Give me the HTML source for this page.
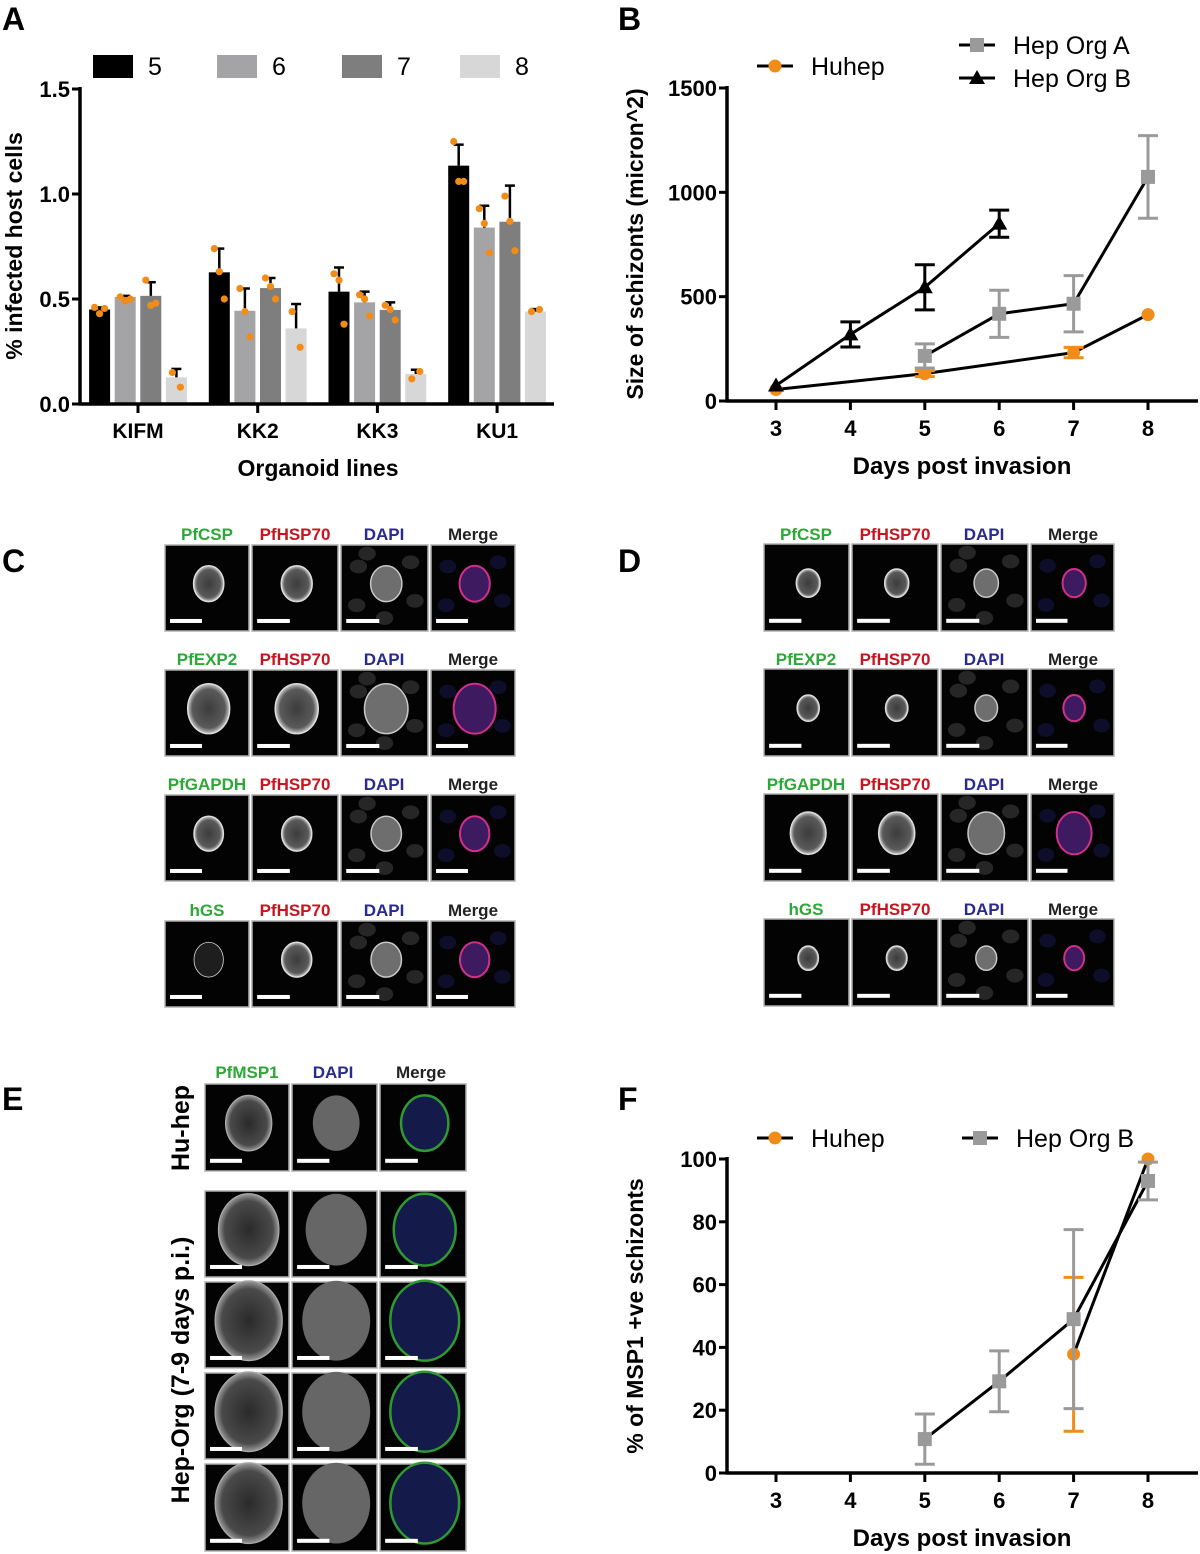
<!DOCTYPE html>
<html><head><meta charset="utf-8"><style>
html,body{margin:0;padding:0;background:#fff;}
svg{display:block;font-family:"Liberation Sans",Arial,sans-serif;}
</style></head><body>
<svg id="fig" width="1200" height="1554" viewBox="0 0 1200 1554" xmlns="http://www.w3.org/2000/svg">
<defs>
<radialGradient id="cellg" cx="50%" cy="50%" r="50%"><stop offset="0%" stop-color="#3c3c3c"/><stop offset="78%" stop-color="#5a5a5a"/><stop offset="100%" stop-color="#c8c8c8"/></radialGradient>
<radialGradient id="cellgE" cx="50%" cy="50%" r="50%"><stop offset="0%" stop-color="#2a2a2a"/><stop offset="80%" stop-color="#4a4a4a"/><stop offset="100%" stop-color="#9a9a9a"/></radialGradient>
</defs>
<g id="labels" font-weight="bold" font-size="32">
<text x="2" y="30">A</text>
<text x="618" y="30">B</text>
<text x="2" y="572">C</text>
<text x="618" y="572">D</text>
<text x="2" y="1110">E</text>
<text x="618" y="1110">F</text>
</g>
<g id="chartA"></g>
<g id="chartB"></g>
<g id="chartF"></g>
<g id="micro"></g>
</svg>
<script>
// ---------- Panel A data ----------
const aCategories = ["KIFM","KK2","KK3","KU1"];
const aSeries = ["5","6","7","8"];
const aMeans5 = [0.45,0.627,0.535,1.135];
const aMeans6 = [0.51,0.444,0.484,0.84];
const aMeans7 = [0.515,0.552,0.448,0.868];
const aMeans8 = [0.127,0.36,0.143,0.44];
const aErr5 = [0.46,0.74,0.65,1.235];
const aErr6 = [0.515,0.55,0.535,0.944];
const aErr7 = [0.58,0.6,0.484,1.04];
const aErr8 = [0.167,0.476,0.163,0.452];
const aDots5 = [[0.46,0.43,0.455],[0.74,0.63,0.5],[0.62,0.59,0.38],[1.25,1.06,1.06]];
const aDots6 = [[0.51,0.49,0.5],[0.55,0.44,0.32],[0.52,0.5,0.42],[0.93,0.86,0.72]];
const aDots7 = [[0.59,0.47,0.48],[0.6,0.56,0.5],[0.47,0.45,0.4],[0.99,0.87,0.73]];
const aDots8 = [[0.15,0.08],[0.44,0.27],[0.12,0.155],[0.44,0.45]];
const aTicks = [0,0.5,1.0,1.5];
const aTickLabels = ["0.0","0.5","1.0","1.5"];

// ---------- Panel B data ----------
const bDays = [3,4,5,6,7,8];
const bHuhepX = [3,5,7,8];
const bHuhepY = [55,131,232,414];
const bHuhepErr = [0,14,25,0];
const bOrgAX = [5,6,7,8];
const bOrgAY = [216,418,466,1074];
const bOrgAErr = [58,113,135,198];
const bOrgBX = [3,4,5,6];
const bOrgBY = [74,319,545,850];
const bOrgBErr = [0,60,108,65];
const bTicks = [0,500,1000,1500];

// ---------- Panel F data ----------
const fHuhepX = [7,8];
const fHuhepY = [37.8,100];
const fHuhepErr = [24.5,0];
const fOrgBX = [5,6,7,8];
const fOrgBY = [10.8,29.2,49,93];
const fOrgBErr = [8,9.7,28.5,6];
const fTicks = [0,20,40,60,80,100];

const NS = "http://www.w3.org/2000/svg";
function mk(parent, tag, attrs, text){
  const e = document.createElementNS(NS, tag);
  for (const k in attrs) e.setAttribute(k, attrs[k]);
  if (text !== undefined) e.textContent = text;
  parent.appendChild(e);
  return e;
}
const ORANGE = "#f28c18";

// ===== Chart A =====
(function(){
  const g = document.getElementById("chartA");
  const x0 = 80, x1 = 554, yBase = 404;
  const yA = v => yBase - v * 210;
  const gx = i => 138 + i * 119.7;
  const barOff = j => (j - 1.5) * 25.6;
  const colors = ["#000000","#a4a4a7","#7e7e7e","#d7d7d7"];
  const means = [aMeans5,aMeans6,aMeans7,aMeans8];
  const errs = [aErr5,aErr6,aErr7,aErr8];
  const dots = [aDots5,aDots6,aDots7,aDots8];
  aSeries.forEach((s,j)=>{
    const lx = [93,217,342,460][j];
    const r = mk(g,"rect",{x:lx,y:55,width:40,height:23,fill:colors[j]});
    
    
    const t = mk(g,"text",{x:lx+55,y:75,"font-size":25},s);
    
    
  });
  aCategories.forEach((c,i)=>{
    means.forEach((m,j)=>{
      const cx = gx(i)+barOff(j);
      const top = yA(m[i]);
      const b = mk(g,"rect",{x:cx-10.5,y:top,width:21,height:yBase-top,fill:colors[j]});
      
      
      const ey = yA(errs[j][i]);
      mk(g,"line",{x1:cx,y1:top,x2:cx,y2:ey,stroke:"#000","stroke-width":2.5});
      mk(g,"line",{x1:cx-5,y1:ey,x2:cx+5,y2:ey,stroke:"#000","stroke-width":2.5});
      const d = dots[j][i];
      d.forEach((v,k)=>{
        const dx = d.length===3 ? (k-1)*5 : (k-0.5)*8;
        const p = mk(g,"circle",{cx:cx+dx,cy:yA(v),r:3.6,fill:ORANGE});
        
        
      });
    });
    mk(g,"line",{x1:gx(i),y1:yBase,x2:gx(i),y2:yBase+9,stroke:"#000","stroke-width":3});
    const t = mk(g,"text",{x:gx(i),y:438,"font-size":21,"font-weight":"bold","text-anchor":"middle"},c);
    
    
  });
  mk(g,"line",{x1:x0,y1:yA(1.5)-2,x2:x0,y2:yBase+1.5,stroke:"#000","stroke-width":3.5});
  mk(g,"line",{x1:x0-1.5,y1:yBase,x2:x1,y2:yBase,stroke:"#000","stroke-width":3.5});
  aTicks.forEach((v,k)=>{
    mk(g,"line",{x1:x0-8,y1:yA(v),x2:x0,y2:yA(v),stroke:"#000","stroke-width":3});
    const t = mk(g,"text",{x:x0-10,y:yA(v)+8,"font-size":22,"font-weight":"bold","text-anchor":"end"},aTickLabels[k]);
    
    
  });
  const yt = mk(g,"text",{x:0,y:0,"font-size":23,"font-weight":"bold","text-anchor":"middle",transform:"translate(22,246) rotate(-90)"},"% infected host cells");
  
  
  const xt = mk(g,"text",{x:318,y:476,"font-size":23,"font-weight":"bold","text-anchor":"middle"},"Organoid lines");
  
  
})();

function lineChart(gid, yZero, yTop, maxV, ticks, yTitle, titleY){
  const g = document.getElementById(gid);
  const x0 = 727, x1 = 1198;
  const xS = d => 776 + (d-3)*74.4;
  const yS = v => yZero - v/maxV*(yZero-yTop);
  mk(g,"line",{x1:x0,y1:yTop-2,x2:x0,y2:yZero+1.5,stroke:"#000","stroke-width":3.5});
  mk(g,"line",{x1:x0-1.5,y1:yZero,x2:x1,y2:yZero,stroke:"#000","stroke-width":3.5});
  ticks.forEach(v=>{
    mk(g,"line",{x1:x0-8,y1:yS(v),x2:x0,y2:yS(v),stroke:"#000","stroke-width":3});
    const t = mk(g,"text",{x:x0-10,y:yS(v)+8,"font-size":22,"font-weight":"bold","text-anchor":"end"},String(v));
    
    
  });
  bDays.forEach(d=>{
    mk(g,"line",{x1:xS(d),y1:yZero,x2:xS(d),y2:yZero+9,stroke:"#000","stroke-width":3});
    const t = mk(g,"text",{x:xS(d),y:yZero+35,"font-size":22,"font-weight":"bold","text-anchor":"middle"},String(d));
    
    
  });
  const yt = mk(g,"text",{x:0,y:0,"font-size":23,"font-weight":"bold","text-anchor":"middle",transform:"translate(643,"+titleY+") rotate(-90)"},yTitle);
  
  
  const xt = mk(g,"text",{x:962,y:yZero+73,"font-size":24,"font-weight":"bold","text-anchor":"middle"},"Days post invasion");
  
  
  return {g,xS,yS};
}
function series(c, xs, ys, errs, color, marker, name){
  const {g,xS,yS} = c;
  const pts = xs.map((d,i)=>xS(d)+","+yS(ys[i])).join(" ");
  const pl = mk(g,"polyline",{points:pts,fill:"none",stroke:"#000","stroke-width":3});
  
  
  xs.forEach((d,i)=>{
    const x = xS(d), y = yS(ys[i]);
    if (errs[i] > 0){
      mk(g,"line",{x1:x,y1:yS(ys[i]+errs[i]),x2:x,y2:yS(ys[i]-errs[i]),stroke:color,"stroke-width":3});
      mk(g,"line",{x1:x-10,y1:yS(ys[i]+errs[i]),x2:x+10,y2:yS(ys[i]+errs[i]),stroke:color,"stroke-width":3});
      mk(g,"line",{x1:x-10,y1:yS(ys[i]-errs[i]),x2:x+10,y2:yS(ys[i]-errs[i]),stroke:color,"stroke-width":3});
    }
    let m;
    if (marker==="circle") m = mk(g,"circle",{cx:x,cy:y,r:6.5,fill:color});
    else if (marker==="square") m = mk(g,"rect",{x:x-7,y:y-7,width:14,height:14,fill:color});
    else m = mk(g,"polygon",{points:(x)+","+(y-8)+" "+(x-8)+","+(y+6)+" "+(x+8)+","+(y+6),fill:color});
    
    
  });
}
function legendEntry(g, x, y, marker, color, label){
  mk(g,"line",{x1:x-18,y1:y,x2:x+18,y2:y,stroke:"#000","stroke-width":3});
  if (marker==="circle") mk(g,"circle",{cx:x,cy:y,r:6.5,fill:color});
  else if (marker==="square") mk(g,"rect",{x:x-7,y:y-7,width:14,height:14,fill:color});
  else mk(g,"polygon",{points:x+","+(y-8)+" "+(x-8)+","+(y+6)+" "+(x+8)+","+(y+6),fill:color});
  const t = mk(g,"text",{x:x+36,y:y+9,"font-size":25},label);
  
  
}

(function(){
  const c = lineChart("chartB", 401, 88, 1500, bTicks, "Size of schizonts (micron^2)", 244);
  series(c, bHuhepX, bHuhepY, bHuhepErr, ORANGE, "circle", "huhep");
  series(c, bOrgAX, bOrgAY, bOrgAErr, "#9a9a9a", "square", "hep-org-a");
  series(c, bOrgBX, bOrgBY, bOrgBErr, "#000", "triangle", "hep-org-b");
  legendEntry(c.g, 775, 66, "circle", ORANGE, "Huhep");
  legendEntry(c.g, 977, 45, "square", "#9a9a9a", "Hep Org A");
  legendEntry(c.g, 977, 78, "triangle", "#000", "Hep Org B");
})();

(function(){
  const c = lineChart("chartF", 1473, 1159, 100, fTicks, "% of MSP1 +ve schizonts", 1316);
  series(c, fHuhepX, fHuhepY, fHuhepErr, ORANGE, "circle", "huhep");
  series(c, fOrgBX, fOrgBY, fOrgBErr, "#9a9a9a", "square", "hep-org-b");
  legendEntry(c.g, 775, 1138, "circle", ORANGE, "Huhep");
  legendEntry(c.g, 980, 1138, "square", "#9a9a9a", "Hep Org B");
})();

(function(){
  const g = document.getElementById("micro");
  const GREEN="#2da836", RED="#c8141e", BLUE="#2a2a8c", BLK="#222";
  function tile(x,y,w,h,kind,size,name){
    const tg = mk(g,"g",{});
    
    
    mk(tg,"rect",{x:x,y:y,width:w,height:h,fill:"#030303",stroke:"#b0b0b0","stroke-width":1.5});
    const cx=x+w*0.52, cy=y+h*0.45, rx=w*size*0.5, ry=h*size*0.58;
    if (kind==="dapi"){
      [[0.2,0.25],[0.8,0.2],[0.18,0.7],[0.85,0.65],[0.5,0.85],[0.3,0.1]].forEach(p=>{
        mk(tg,"ellipse",{cx:x+w*p[0],cy:y+h*p[1],rx:w*0.1,ry:h*0.08,fill:"#262626"});
      });
      mk(tg,"ellipse",{cx:cx,cy:cy,rx:rx,ry:ry,fill:"#6e6e6e",stroke:"#c8c8c8","stroke-width":1.5});
    } else if (kind==="merge"){
      [[0.2,0.25],[0.8,0.2],[0.18,0.7],[0.85,0.65]].forEach(p=>{
        mk(tg,"ellipse",{cx:x+w*p[0],cy:y+h*p[1],rx:w*0.1,ry:h*0.08,fill:"#0e0e2a"});
      });
      mk(tg,"ellipse",{cx:cx,cy:cy,rx:rx,ry:ry,fill:"#3e1a60",stroke:"#d0308a","stroke-width":2});
    } else if (kind==="mergeG"){
      mk(tg,"ellipse",{cx:cx,cy:cy,rx:rx,ry:ry,fill:"#141a4a",stroke:"#2f9a30","stroke-width":2.5});
    } else if (kind==="dapiE"){
      mk(tg,"ellipse",{cx:cx,cy:cy,rx:rx,ry:ry,fill:"#666"});
    } else if (kind==="cellE"){
      mk(tg,"ellipse",{cx:cx,cy:cy,rx:rx,ry:ry,fill:"url(#cellgE)",stroke:"#aaa","stroke-width":1.2});
    } else {
      mk(tg,"ellipse",{cx:cx,cy:cy,rx:rx,ry:ry,fill:kind==="faint"?"#1e1e1e":"url(#cellg)",stroke:"#dcdcdc","stroke-width":kind==="faint"?0.8:1.5});
    }
    mk(tg,"rect",{x:x+w*0.06,y:y+h*0.86,width:w*0.38,height:4,fill:"#fff"});
  }
  function header(x,y,txt,col){
    const t = mk(g,"text",{x:x,y:y,"font-size":17,"font-weight":"bold","text-anchor":"middle",fill:col},txt);
    
    
  }
  const cCols=[165,252,341,431], cW=[84,86,87,84];
  const cRows=[545,670,795,921];
  const gLab=["PfCSP","PfEXP2","PfGAPDH","hGS"];
  const cSizes=[0.36,0.5,0.35,0.35];
  cRows.forEach((ry,r)=>{
    const hy = ry-5;
    header(cCols[0]+42,hy,gLab[r],GREEN);
    header(cCols[1]+43,hy,"PfHSP70",RED);
    header(cCols[2]+43,hy,"DAPI",BLUE);
    header(cCols[3]+42,hy,"Merge",BLK);
    const k=["cell","cell","dapi","merge"];
    if (r===3) k[0]="faint";
    k.forEach((kd,c)=>tile(cCols[c],ry,cW[c],86,kd,cSizes[r],"image-c-r"+(r+1)+"-c"+(c+1)));
  });
  const dCols=[764,852,941,1031], dW=[85,86,87,83];
  const dRows=[544,669,794,919];
  const dSizes=[0.28,0.26,0.42,0.24];
  dRows.forEach((ry,r)=>{
    const hy=ry-4;
    header(dCols[0]+42,hy,gLab[r],GREEN);
    header(dCols[1]+43,hy,"PfHSP70",RED);
    header(dCols[2]+43,hy,"DAPI",BLUE);
    header(dCols[3]+42,hy,"Merge",BLK);
    const k=["cell","cell","dapi","merge"];
    k.forEach((kd,c)=>tile(dCols[c],ry,dW[c],87,kd,dSizes[r],"image-d-r"+(r+1)+"-c"+(c+1)));
  });
  const eCols=[205,292,380], eW=[84,85,86];
  const eRows=[1084,1191,1282,1373,1464], eH=[87,86,86,86,87];
  header(247,1078,"PfMSP1",GREEN);
  header(333,1078,"DAPI",BLUE);
  header(421,1078,"Merge",BLK);
  const eSizes=[0.55,0.72,0.8,0.8,0.8];
  eRows.forEach((ry,r)=>{
    ["cellE","dapiE","mergeG"].forEach((kd,c)=>tile(eCols[c],ry,eW[c],eH[r],kd,eSizes[r],"image-e-r"+(r+1)+"-c"+(c+1)));
  });
  const s1 = mk(g,"text",{x:0,y:0,"font-size":25,"font-weight":"bold","text-anchor":"middle",transform:"translate(189,1128) rotate(-90)"},"Hu-hep");
  
  
  const s2 = mk(g,"text",{x:0,y:0,"font-size":25,"font-weight":"bold","text-anchor":"middle",transform:"translate(189,1370) rotate(-90)"},"Hep-Org (7-9 days p.i.)");
  
  
})();
</script>
</body></html>
